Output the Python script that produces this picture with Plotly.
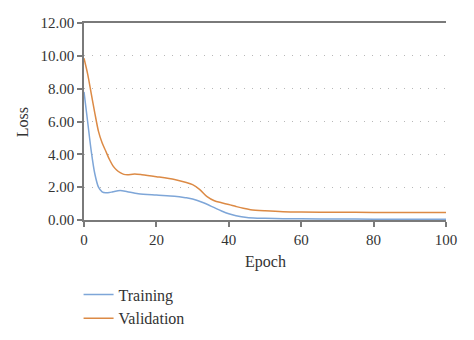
import plotly.graph_objects as go

train_epochs = [0, 1, 2, 3, 4, 5, 6, 7, 8, 10, 12, 15, 20, 25, 28, 30, 33, 36, 38, 40, 42, 45, 48, 50, 55, 60, 70, 80, 90, 100]
train_loss = [7.8, 6.0, 4.2, 2.8, 2.0, 1.72, 1.66, 1.67, 1.72, 1.8, 1.72, 1.6, 1.52, 1.45, 1.36, 1.28, 1.05, 0.75, 0.55, 0.38, 0.26, 0.15, 0.11, 0.1, 0.08, 0.07, 0.06, 0.05, 0.05, 0.04]

val_epochs = [0, 1, 2, 3, 4, 5, 6, 7, 8, 9, 10, 11, 12, 14, 16, 20, 25, 28, 30, 32, 34, 36, 38, 40, 42, 44, 46, 50, 55, 60, 70, 80, 90, 100]
val_loss = [9.85, 8.9, 7.7, 6.5, 5.4, 4.7, 4.2, 3.7, 3.3, 3.05, 2.88, 2.78, 2.76, 2.8, 2.76, 2.64, 2.47, 2.3, 2.15, 1.85, 1.42, 1.17, 1.05, 0.94, 0.82, 0.71, 0.63, 0.56, 0.5, 0.48, 0.47, 0.46, 0.45, 0.46]

y_ticks = [0, 2, 4, 6, 8, 10, 12]
y_tick_labels = ["0.00", "2.00", "4.00", "6.00", "8.00", "10.00", "12.00"]
x_ticks = [0, 20, 40, 60, 80, 100]
x_title = "Epoch"
y_title = "Loss"

FONT = "Liberation Serif"
AXIS = "#7a7a7a"
TEXT = "#333333"

fig = go.Figure()
fig.add_trace(go.Scatter(x=train_epochs, y=train_loss, mode="lines", name="Training",
                         line=dict(color="#7ea6d8", width=1.5, shape="spline", smoothing=0.8)))
fig.add_trace(go.Scatter(x=val_epochs, y=val_loss, mode="lines", name="Validation",
                         line=dict(color="#dc8a45", width=1.5, shape="spline", smoothing=0.8)))

fig.update_layout(
    width=474, height=340,
    margin=dict(l=84, r=28, t=23, b=120, autoexpand=False),
    paper_bgcolor="white", plot_bgcolor="white",
    font=dict(family=FONT, size=15, color=TEXT),
    showlegend=True,
    legend=dict(x=-0.015, y=-0.292, xanchor="left", yanchor="top",
                font=dict(family=FONT, size=16, color=TEXT),
                tracegroupgap=0, itemwidth=30, bgcolor="rgba(0,0,0,0)"),
    xaxis=dict(range=[0, 100], tickvals=x_ticks, ticks="outside", ticklen=5,
               tickcolor=AXIS, tickwidth=1.5, showline=True, linecolor=AXIS, linewidth=1.5,
               mirror=True, showgrid=False, zeroline=False, automargin=False,
               tickfont=dict(family=FONT, size=15)),
    yaxis=dict(range=[0, 12], tickvals=y_ticks, ticktext=y_tick_labels, ticks="outside",
               ticklen=5, tickcolor=AXIS, tickwidth=1.5, showline=True, linecolor=AXIS,
               linewidth=1.5, showgrid=True, gridcolor="#b8b8b8", gridwidth=1,
               griddash="1px,7px", zeroline=False, automargin=False,
               tickfont=dict(family=FONT, size=15)),
    annotations=[
        dict(text=x_title, xref="paper", yref="paper", x=0.5, y=-0.213,
             xanchor="center", yanchor="middle", showarrow=False,
             font=dict(family=FONT, size=16, color=TEXT)),
        dict(text=y_title, xref="paper", yref="paper", x=-0.171, y=0.497,
             xanchor="center", yanchor="middle", showarrow=False, textangle=-90,
             font=dict(family=FONT, size=16, color=TEXT)),
    ],
)

fig.write_html("out.html")
